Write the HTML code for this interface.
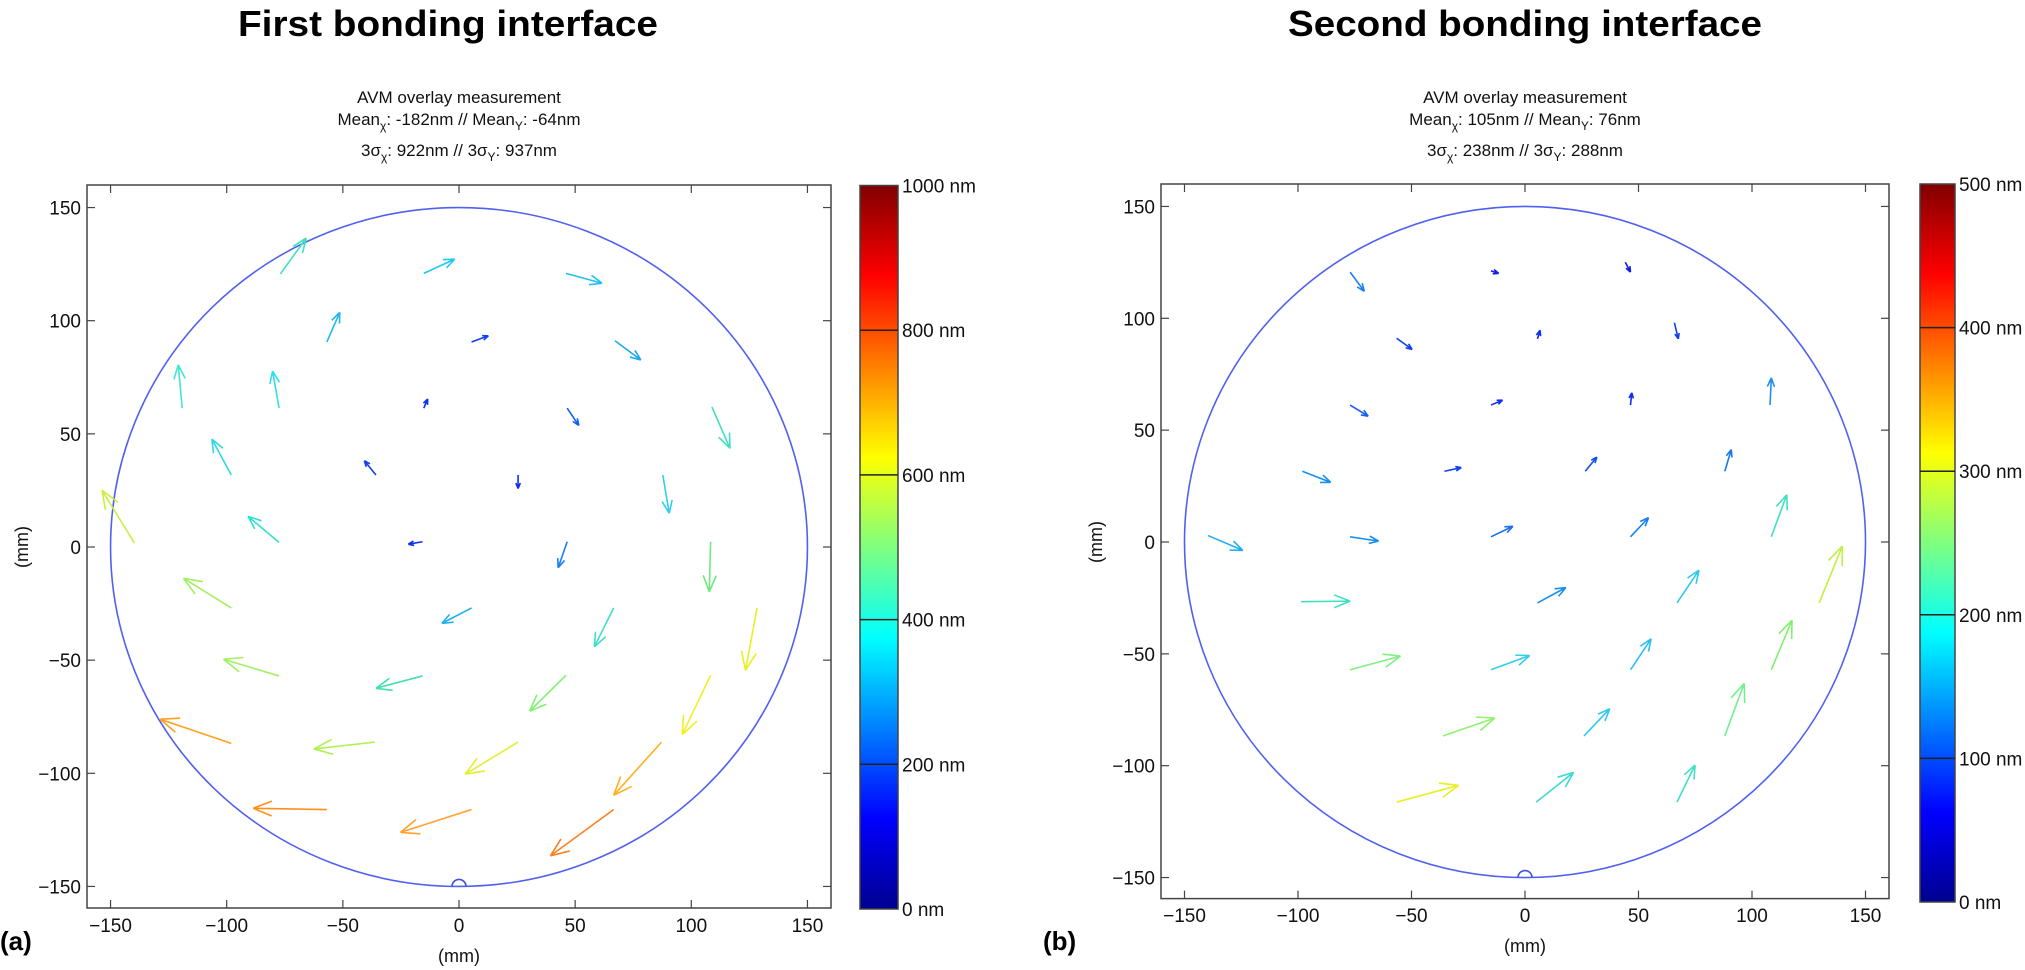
<!DOCTYPE html>
<html><head><meta charset="utf-8"><style>
html,body{margin:0;padding:0;background:#fff;}
svg{display:block;font-family:"Liberation Sans",Arial,sans-serif;}
</style></head><body>
<svg id="s" width="2025" height="970" xmlns="http://www.w3.org/2000/svg">
<defs>
<linearGradient id="jet" x1="0" y1="1" x2="0" y2="0">
<stop offset="0" stop-color="#00008f"/><stop offset="0.125" stop-color="#0000ff"/>
<stop offset="0.375" stop-color="#00ffff"/><stop offset="0.625" stop-color="#ffff00"/>
<stop offset="0.875" stop-color="#ff0000"/><stop offset="1" stop-color="#800000"/>
</linearGradient>
</defs>
<text x="448" y="36" font-size="36" font-weight="bold" text-anchor="middle" textLength="420" lengthAdjust="spacingAndGlyphs">First bonding interface</text>
<text x="1525" y="36" font-size="36" font-weight="bold" text-anchor="middle" textLength="474" lengthAdjust="spacingAndGlyphs">Second bonding interface</text>
<g font-size="17" text-anchor="middle" fill="#111">
<text x="459" y="103">AVM  overlay measurement</text>
<text x="459" y="125">Mean<tspan font-size="12" dy="5">χ</tspan><tspan dy="-5">: -182nm // Mean</tspan><tspan font-size="12" dy="5">Y</tspan><tspan dy="-5">: -64nm</tspan></text>
<text x="459" y="156">3σ<tspan font-size="12" dy="5">χ</tspan><tspan dy="-5">: 922nm // 3σ</tspan><tspan font-size="12" dy="5">Y</tspan><tspan dy="-5">: 937nm</tspan></text>
<text x="1525" y="103">AVM  overlay measurement</text>
<text x="1525" y="125">Mean<tspan font-size="12" dy="5">χ</tspan><tspan dy="-5">: 105nm // Mean</tspan><tspan font-size="12" dy="5">Y</tspan><tspan dy="-5">: 76nm</tspan></text>
<text x="1525" y="156">3σ<tspan font-size="12" dy="5">χ</tspan><tspan dy="-5">: 238nm // 3σ</tspan><tspan font-size="12" dy="5">Y</tspan><tspan dy="-5">: 288nm</tspan></text>
</g>
<text x="0" y="950" font-size="26" font-weight="bold">(a)</text>
<text x="1043" y="950" font-size="26" font-weight="bold">(b)</text>
<g id="g"></g>
</svg>
<script>
var NS="http://www.w3.org/2000/svg",G=document.getElementById("g");
function el(t,a,txt){var e=document.createElementNS(NS,t);for(var k in a)e.setAttribute(k,a[k]);if(txt!=null)e.textContent=txt;G.appendChild(e);return e;}
function axes(o){
 el("rect",{x:o.L,y:o.T,width:o.R-o.L,height:o.B-o.T,fill:"none",stroke:"#444","stroke-width":1.5});
 for(var v=-150;v<=150;v+=50){
  var x=o.cx+v*o.sx;
  el("line",{x1:x,y1:o.B,x2:x,y2:o.B-8,stroke:"#444","stroke-width":1.2});
  el("line",{x1:x,y1:o.T,x2:x,y2:o.T+8,stroke:"#444","stroke-width":1.2});
  el("text",{x:x,y:o.xl,"font-size":19,"text-anchor":"middle",fill:"#111"},v<0?"\u2212"+(-v):""+v);
  var y=o.cy-v*o.sy;
  el("line",{x1:o.L,y1:y,x2:o.L+8,y2:y,stroke:"#444","stroke-width":1.2});
  el("line",{x1:o.R,y1:y,x2:o.R-8,y2:y,stroke:"#444","stroke-width":1.2});
  el("text",{x:o.L-6,y:y+7,"font-size":19,"text-anchor":"end",fill:"#111"},v<0?"\u2212"+(-v):""+v);
 }
 el("text",{x:o.cx,y:o.xlab,"font-size":18,"text-anchor":"middle",fill:"#111"},"(mm)");
 el("text",{x:o.yx,y:o.cy,"font-size":18,"text-anchor":"middle",fill:"#111",transform:"rotate(-90 "+o.yx+" "+o.cy+")"},"(mm)");
 el("ellipse",{cx:o.cx,cy:o.cy,rx:150*o.sx,ry:150*o.sy,fill:"none",stroke:"#5060f0","stroke-width":1.6});
 var by=o.cy+150*o.sy;
 el("path",{d:"M"+(o.cx-7)+" "+by+" A7 7 0 0 1 "+(o.cx+7)+" "+by,fill:"none",stroke:"#4050e0","stroke-width":1.6});
}
function cbar(o){
 el("rect",{x:o.x,y:o.t,width:o.w,height:o.b-o.t,fill:"url(#jet)",stroke:"#444","stroke-width":1.5});
 for(var i=0;i<o.labels.length;i++){
  var y=o.b-(o.b-o.t)*i/(o.labels.length-1);
  if(i>0&&i<o.labels.length-1)el("line",{x1:o.x,y1:y,x2:o.x+o.w,y2:y,stroke:"#222","stroke-width":1.5});
  el("text",{x:o.x+o.w+4,y:y+7,"font-size":19,fill:"#111"},o.labels[i]);
 }
}
function arrows(list){
 list.forEach(function(a){
  var x1=a[0]/0.774,y1=a[1]/1.617,x2=a[2]/0.774,y2=a[3]/1.617,c=a[4];
  var dx=x2-x1,dy=y2-y1,L=Math.sqrt(dx*dx+dy*dy);if(L<1)return;
  var ux=dx/L,uy=dy/L,h=Math.max(6,Math.min(0.35*L,20)),an=0.38;
  var p="M"+x1+" "+y1+"L"+x2+" "+y2;
  [an,-an].forEach(function(t){var cs=Math.cos(t),sn=Math.sin(t);
   var rx=ux*cs-uy*sn,ry=ux*sn+uy*cs;p+="M"+x2+" "+y2+"L"+(x2-h*rx)+" "+(y2-h*ry);});
  el("path",{d:p,stroke:c,"stroke-width":1.6,fill:"none"});
 });
}
axes({L:87,R:831,T:185,B:908,cx:459,cy:547,sx:2.323,sy:2.263,xl:932,xlab:962,yx:28});
axes({L:1161,R:1889,T:184,B:898.6,cx:1525,cy:542,sx:2.27,sy:2.237,xl:922,xlab:952,yx:1102});
cbar({x:860,w:38,t:185.5,b:909,labels:["0  nm","200  nm","400  nm","600  nm","800  nm","1000 nm"]});
cbar({x:1920,w:35,t:184,b:902,labels:["0  nm","100 nm","200 nm","300 nm","400 nm","500 nm"]});
arrows([
[217,443,237,385,"#3fe0c0"],[328,442,352,419,"#20c8f0"],[438,442,466,458,"#20c0f0"],
[253,553,263,505,"#20b8f0"],[365,553,378,543,"#1040f0"],[476,551,496,582,"#20a8f0"],
[141,660,138,590,"#40e8d0"],[216,660,211,600,"#30e0e8"],[328,660,331,645,"#1030f0"],
[439,660,448,688,"#1060f0"],[551,658,565,725,"#40e0c0"],[179,768,164,710,"#30d8e0"],
[291,768,282,745,"#1040f0"],[401,768,401,790,"#1030f0"],[513,768,518,830,"#30d0e8"],
[104,878,79,793,"#c8f040"],[216,877,192,835,"#30e0d0"],[327,876,316,880,"#1030f0"],
[439,876,432,918,"#1880f0"],[550,876,549,957,"#70e880"],[179,983,142,935,"#a0f060"],
[365,983,342,1008,"#20b0f0"],[475,983,460,1046,"#40e0c8"],[586,983,577,1084,"#e8f020"],
[216,1093,173,1066,"#a0f060"],[327,1093,291,1113,"#40e0b0"],[438,1092,410,1150,"#80f070"],
[550,1092,528,1188,"#f0f020"],[179,1202,124,1163,"#ffa020"],[290,1200,243,1211,"#b0f050"],
[401,1200,360,1252,"#e0f030"],[512,1200,475,1286,"#ffb020"],[253,1309,196,1307,"#ff9020"],
[365,1309,310,1346,"#ffa030"],[475,1309,426,1384,"#ff8020"],
[1045,440,1056,471,"#2080f0"],[1154,438,1160,442,"#1020e0"],[1258,424,1262,440,"#1020e0"],
[1081,547,1093,565,"#1040f0"],[1190,548,1192,534,"#1030f0"],[1296,522,1299,548,"#1040f0"],
[1045,655,1059,673,"#1860f0"],[1154,655,1163,647,"#1030f0"],[1262,655,1263,635,"#1030f0"],
[1370,655,1371,611,"#2090f0"],[1008,762,1030,780,"#1890f0"],[1118,762,1131,756,"#1040f0"],
[1227,762,1236,739,"#1050f0"],[1335,762,1340,727,"#1878f0"],[935,866,962,890,"#20b0f0"],
[1045,868,1067,875,"#1890f0"],[1154,868,1171,851,"#1870f0"],[1262,868,1276,837,"#1880f0"],
[1371,868,1383,800,"#40e0c0"],[1007,973,1045,972,"#40e0c0"],[1190,975,1212,950,"#1890f0"],
[1298,975,1315,922,"#30c8f0"],[1408,975,1426,883,"#c0f040"],[1045,1083,1084,1061,"#80f080"],
[1154,1083,1184,1060,"#30d0e8"],[1262,1083,1278,1033,"#30c0f0"],[1371,1083,1387,1003,"#80f070"],
[1117,1190,1157,1161,"#90f070"],[1226,1190,1246,1146,"#30c8f0"],[1335,1190,1350,1105,"#70f090"],
[1081,1297,1129,1270,"#e8f020"],[1189,1297,1218,1249,"#40d8d0"],[1298,1297,1312,1237,"#40e0c8"]
]);
</script>
</body></html>
